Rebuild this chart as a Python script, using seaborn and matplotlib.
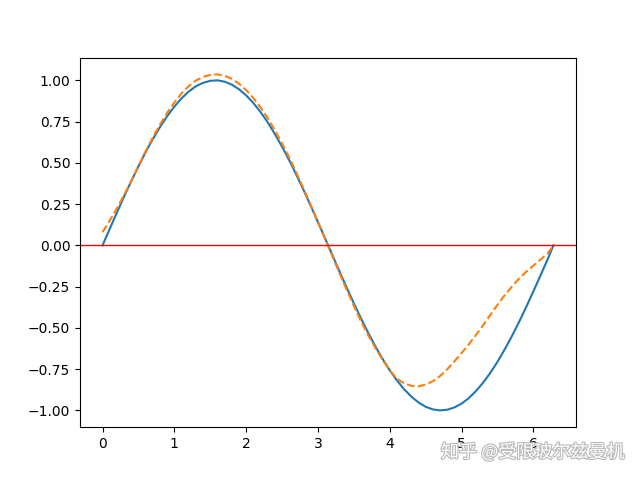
import matplotlib
matplotlib.use("Agg")
import matplotlib.pyplot as plt
import matplotlib.patheffects as pe
import seaborn as sns

x_vals = [0.0, 0.1, 0.2, 0.3, 0.4, 0.5, 0.6, 0.7, 0.8, 0.9,
          1.0, 1.1, 1.2, 1.3, 1.4, 1.5, 1.6, 1.7, 1.8, 1.9,
          2.0, 2.1, 2.2, 2.3, 2.4, 2.5, 2.6, 2.7, 2.8, 2.9,
          3.0, 3.1, 3.2, 3.3, 3.4, 3.5, 3.6, 3.7, 3.8, 3.9,
          4.0, 4.1, 4.2, 4.3, 4.4, 4.5, 4.6, 4.7, 4.8, 4.9,
          5.0, 5.1, 5.2, 5.3, 5.4, 5.5, 5.6, 5.7, 5.8, 5.9,
          6.0, 6.1, 6.2, 6.28]
sin_vals = [0.000, 0.100, 0.199, 0.296, 0.389, 0.479, 0.565, 0.644, 0.717, 0.783,
            0.841, 0.891, 0.932, 0.964, 0.985, 0.997, 1.000, 0.992, 0.974, 0.946,
            0.909, 0.863, 0.808, 0.746, 0.675, 0.598, 0.516, 0.427, 0.335, 0.239,
            0.141, 0.042, -0.058, -0.158, -0.256, -0.351, -0.443, -0.530, -0.612, -0.688,
            -0.757, -0.818, -0.872, -0.916, -0.952, -0.978, -0.994, -1.000, -0.996, -0.982,
            -0.959, -0.926, -0.883, -0.832, -0.773, -0.706, -0.631, -0.551, -0.465, -0.374,
            -0.279, -0.182, -0.083, 0.000]
fit_vals = [0.080, 0.150, 0.224, 0.306, 0.389, 0.479, 0.570, 0.654, 0.732, 0.803,
            0.866, 0.921, 0.965, 0.999, 1.021, 1.033, 1.036, 1.028, 1.009, 0.980,
            0.941, 0.893, 0.836, 0.771, 0.697, 0.617, 0.532, 0.439, 0.343, 0.243,
            0.141, 0.039, -0.064, -0.168, -0.269, -0.366, -0.460, -0.545, -0.622, -0.693,
            -0.757, -0.808, -0.836, -0.851, -0.854, -0.844, -0.823, -0.792, -0.751, -0.703,
            -0.653, -0.600, -0.544, -0.484, -0.422, -0.360, -0.303, -0.250, -0.202, -0.160,
            -0.123, -0.086, -0.048, 0.000]
watermark = "知乎 @受限玻尔兹曼机"

fig, ax = plt.subplots(figsize=(6.4, 4.8), dpi=100)
sns.lineplot(x=x_vals, y=sin_vals, ax=ax, color="#1f77b4", linewidth=1.5)
sns.lineplot(x=x_vals, y=fit_vals, ax=ax, color="#ff7f0e", linewidth=1.5,
             linestyle="--")
ax.axhline(0, color="red", linewidth=1)

fig.text(0.975, 0.058, watermark, ha="right", va="center", fontsize=13,
         family=["Noto Sans CJK SC", "DejaVu Sans"], color="white",
         path_effects=[pe.withStroke(linewidth=1.6, foreground="#b8b8b8")])

fig.savefig("out.png", dpi=100)
